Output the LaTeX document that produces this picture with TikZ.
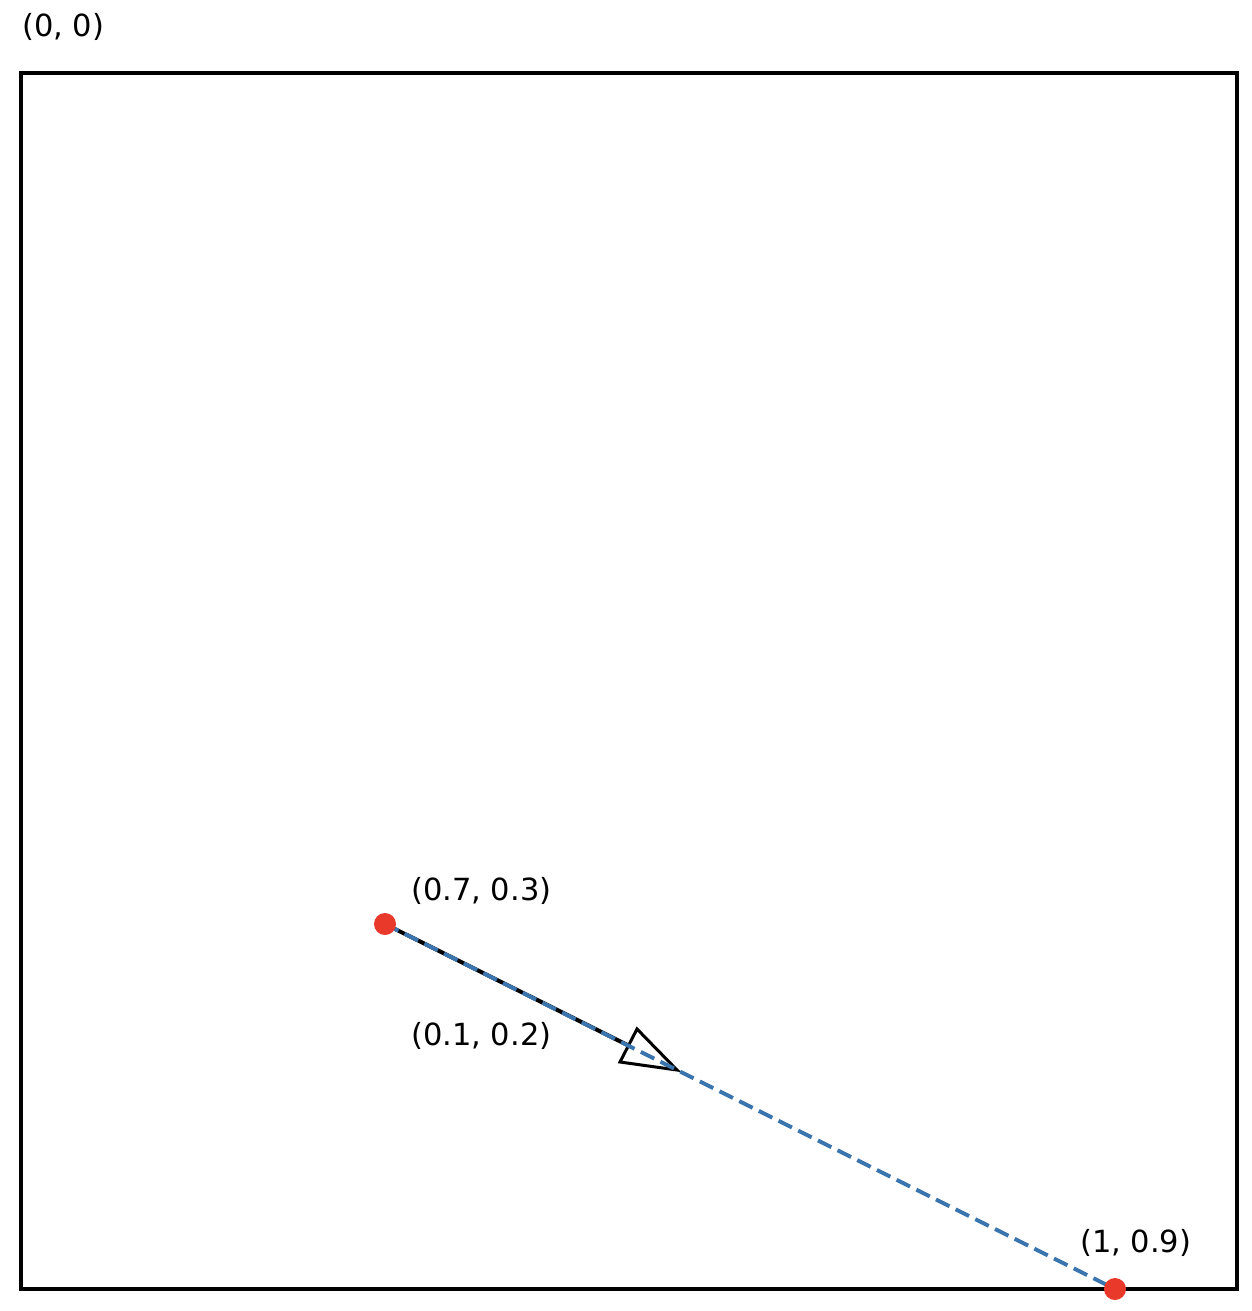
\documentclass[tikz,border=0pt]{standalone}
\usepackage{fontspec}
\setmainfont{DejaVu Sans}
\definecolor{ptred}{HTML}{E8392A}
\definecolor{lnblue}{HTML}{3B75AF}
\begin{document}
\begin{tikzpicture}[x=1pt,y=-1pt,
  lbl/.style={anchor=base west,inner sep=0pt,font=\fontsize{30.5}{36}\selectfont},
  pt/.style={circle,fill=ptred,minimum size=22pt,inner sep=0pt},
  frame/.style={draw=black,line width=4pt},
  guide/.style={draw=lnblue,line width=4pt,dash pattern=on 15pt off 7pt},
  vec/.style={draw=black,line width=4pt}]
\useasboundingbox (0,0) rectangle (1251,1311);
\draw[frame] (21,73) rectangle (1237,1289);
\coordinate (p1) at (385,924);
\coordinate (p2) at (1115,1289);
\coordinate (tip) at (677,1070);
\coordinate (b1) at (637,1029);
\coordinate (b2) at (620,1062);
\coordinate (bm) at (628.5,1045.5);
\draw[vec] (p1) -- (bm);
\draw[black,line width=3pt,fill=white,line join=miter] (tip) -- (b1) -- (b2) -- cycle;
\draw[guide] (p1) -- (p2);
\node[pt] (n1) at (p1) {};
\node[pt] (n2) at (p2) {};
\node[lbl] (l0) at (22,37) {(0, 0)};
\node[lbl] (l1) at (411,900) {(0.7, 0.3)};
\node[lbl] (l2) at (411,1045) {(0.1, 0.2)};
\node[lbl] (l3) at (1080,1252) {(1, 0.9)};
\end{tikzpicture}
\end{document}
